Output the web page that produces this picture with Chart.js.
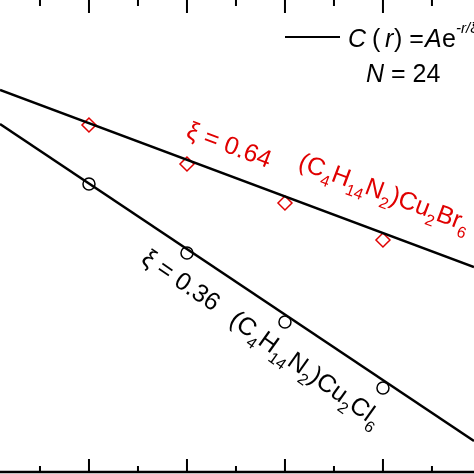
<!DOCTYPE html>
<html><head><style>html,body{margin:0;padding:0;background:#fff}</style>
<script src="https://cdn.jsdelivr.net/npm/chart.js@4"></script></head>
<body><canvas id="c" width="474" height="474"></canvas>
<script>
const rBr = [1, 2, 3, 4];
const lnBr = [7.363, 6.540, 5.717, 4.937];
const rCl = [1, 2, 3, 4];
const lnCl = [6.118, 4.662, 3.207, 1.814];
const fitR = [0.092, 4.929];
const fitBr = [8.101, 4.367];
const fitCl = [7.384, 0.696];
const majorTicks = [1, 2, 3, 4];
const minorTicks = [0.5, 1.5, 2.5, 3.5, 4.5];
const pts = (xs, ys) => xs.map((x, i) => ({x, y: ys[i]}));

function sub(ctx, parts, x, y, big, small) {
  for (const [t, s] of parts) {
    ctx.font = (s ? small : big) + 'px "Liberation Sans", Arial';
    ctx.fillText(t, x, y + (s ? big * 0.3 : 0));
    x += ctx.measureText(t).width;
  }
}
const deco = {
  id: 'deco',
  afterDraw(ch) {
    const ctx = ch.ctx, xs = ch.scales.x;
    ctx.save();
    ctx.strokeStyle = '#000'; ctx.lineWidth = 2.5;
    ctx.beginPath(); ctx.moveTo(0, 472); ctx.lineTo(474, 472); ctx.stroke();
    ctx.lineWidth = 2;
    for (const t of majorTicks) { const p = xs.getPixelForValue(t);
      ctx.beginPath(); ctx.moveTo(p, 0); ctx.lineTo(p, 13); ctx.moveTo(p, 472); ctx.lineTo(p, 459); ctx.stroke(); }
    for (const t of minorTicks) { const p = xs.getPixelForValue(t);
      ctx.beginPath(); ctx.moveTo(p, 0); ctx.lineTo(p, 6); ctx.moveTo(p, 472); ctx.lineTo(p, 466); ctx.stroke(); }
    ctx.beginPath(); ctx.moveTo(285, 37); ctx.lineTo(340, 37); ctx.stroke();
    ctx.fillStyle = '#000'; ctx.textBaseline = 'alphabetic';
    const F = '"Liberation Sans", Arial';
    ctx.font = 'italic 25px ' + F; ctx.fillText('C', 348, 47);
    ctx.font = '25px ' + F; ctx.fillText(' (', 365, 47);
    ctx.font = 'italic 25px ' + F; ctx.fillText('r', 385, 47);
    ctx.font = '25px ' + F; ctx.fillText(') = ', 394, 47);
    ctx.font = 'italic 25px ' + F; ctx.fillText('A', 425, 47);
    ctx.font = '25px ' + F; ctx.fillText('e', 442, 47);
    ctx.font = 'italic 15px ' + F; ctx.fillText('-r/ξ', 456, 33);
    ctx.font = 'italic 25px ' + F; ctx.fillText('N', 366, 82);
    ctx.font = '25px ' + F; ctx.fillText(' = 24', 384, 82);
    ctx.fillStyle = '#e00000';
    ctx.save(); ctx.translate(185, 137); ctx.rotate(0.36);
    sub(ctx, [['ξ = 0.64', 0]], 0, 0, 25, 16); ctx.restore();
    ctx.save(); ctx.translate(297, 168); ctx.rotate(0.36);
    sub(ctx, [['(C',0],['4',1],['H',0],['14',1],['N',0],['2',1],[')Cu',0],['2',1],['Br',0],['6',1]], 0, 0, 25, 16); ctx.restore();
    ctx.fillStyle = '#000';
    ctx.save(); ctx.translate(140, 262); ctx.rotate(0.6);
    sub(ctx, [['ξ = 0.36', 0]], 0, 0, 25, 16); ctx.restore();
    ctx.save(); ctx.translate(228, 323); ctx.rotate(0.62);
    sub(ctx, [['(C',0],['4',1],['H',0],['14',1],['N',0],['2',1],[')Cu',0],['2',1],['Cl',0],['6',1]], 0, 0, 25, 16); ctx.restore();
    ctx.restore();
  }
};
new Chart(document.getElementById('c'), {
  type: 'scatter',
  data: { datasets: [
    { data: pts(fitR, fitBr), showLine: true, borderColor: '#000', borderWidth: 2.5, pointRadius: 0 },
    { data: pts(fitR, fitCl), showLine: true, borderColor: '#000', borderWidth: 2.5, pointRadius: 0 },
    { data: pts(rBr, lnBr), pointStyle: 'rectRot', pointRadius: 7, borderColor: '#e00000', backgroundColor: '#fff', borderWidth: 1.5 },
    { data: pts(rCl, lnCl), pointStyle: 'circle', pointRadius: 6, borderColor: '#000', backgroundColor: '#fff', borderWidth: 1.5 }
  ]},
  options: {
    responsive: false, animation: false, layout: { padding: 0, autoPadding: false },
    plugins: { legend: { display: false }, tooltip: { enabled: false } },
    scales: {
      x: { type: 'linear', min: 0.092, max: 4.929, display: false },
      y: { type: 'linear', min: 0, max: 10, display: false }
    }
  },
  plugins: [deco]
});
</script></body></html>
